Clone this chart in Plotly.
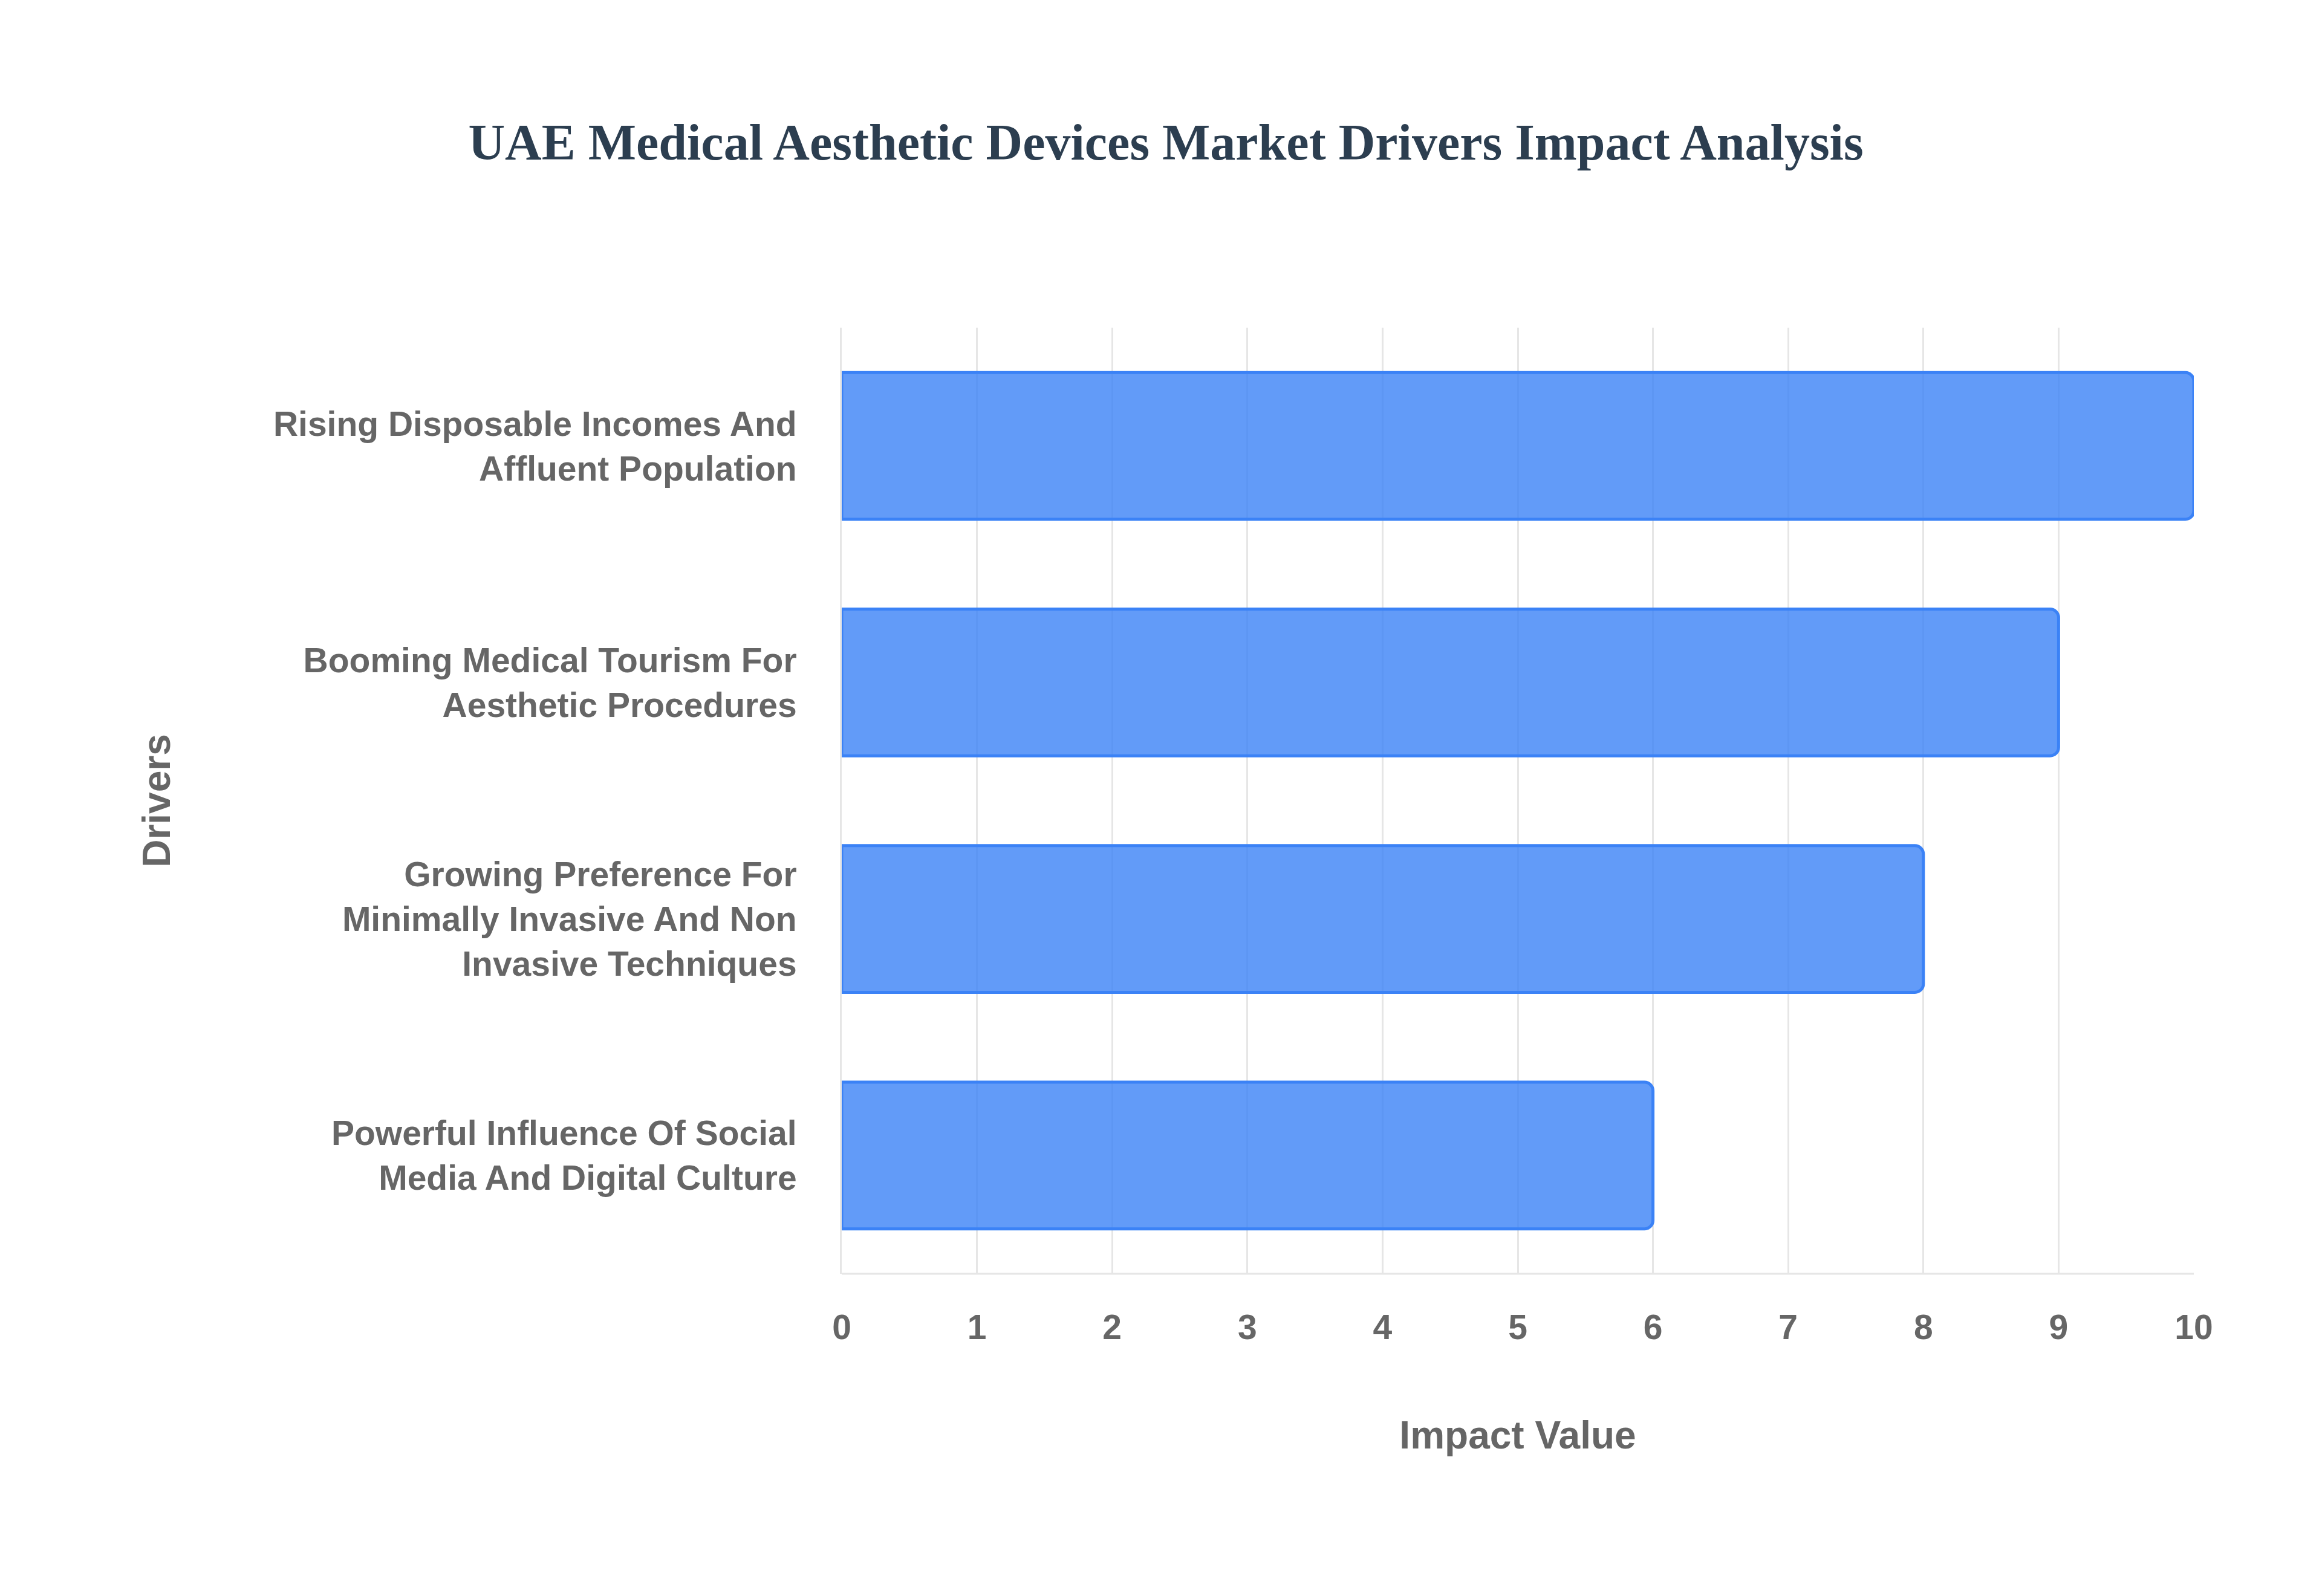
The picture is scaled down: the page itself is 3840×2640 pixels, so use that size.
import plotly.graph_objects as go

drivers = [
    "Powerful Influence Of Social<br>Media And Digital Culture",
    "Growing Preference For<br>Minimally Invasive And Non<br>Invasive Techniques",
    "Booming Medical Tourism For<br>Aesthetic Procedures",
    "Rising Disposable Incomes And<br>Affluent Population",
]
impact = [6, 8, 9, 10]
x_ticks = list(range(0, 11))

fig = go.Figure(go.Bar(
    x=impact, y=drivers, orientation="h",
    marker=dict(color="rgba(59,130,246,0.8)", line=dict(color="#3b82f6", width=5)),
    width=0.62, hoverinfo="x+y",
))
font_tick = dict(family="Liberation Sans", size=57, color="#666666", weight="bold")
fig.update_layout(
    width=3840, height=2640,
    paper_bgcolor="white", plot_bgcolor="white",
    margin=dict(l=1384, r=220, t=534, b=541),
    barcornerradius=14,
    title=dict(text="<b>UAE Medical Aesthetic Devices Market Drivers Impact Analysis</b>",
               x=0.5, xanchor="center", y=0.914, yanchor="middle",
               font=dict(family="Liberation Serif", size=84, color="#2c3e50")),
    xaxis=dict(range=[0, 10], tickvals=x_ticks, showgrid=True, gridcolor="#e6e6e6", gridwidth=3,
               zeroline=False, showline=False, tickfont=font_tick, ticklabelstandoff=50,
               title=dict(text="Impact Value", standoff=125,
                          font=dict(family="Liberation Sans", size=64, color="#666666", weight="bold"))),
    yaxis=dict(showgrid=False, zeroline=False, showline=True, linecolor="#e6e6e6", linewidth=3,
               tickfont=font_tick, ticklabelstandoff=60, range=[-0.5, 3.5],
               title=dict(text="Drivers", standoff=150,
                          font=dict(family="Liberation Sans", size=64, color="#666666", weight="bold"))),
    showlegend=False,
)
fig.add_shape(type="line", xref="paper", yref="paper", x0=0, x1=1, y0=0, y1=0,
              line=dict(color="#e6e6e6", width=3))
fig.write_html("out.html")
